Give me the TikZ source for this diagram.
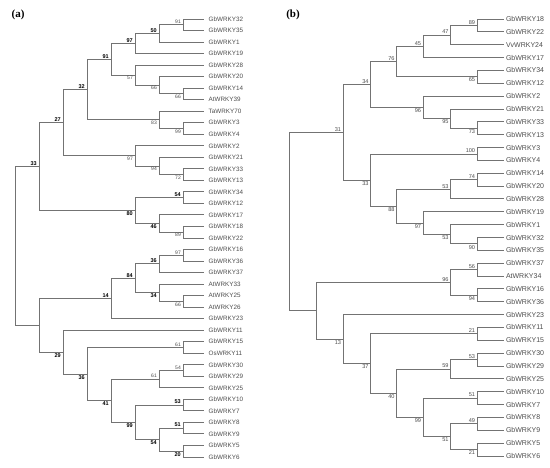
\documentclass[tikz,border=0pt]{standalone}
\usepackage{fontspec}
\setmainfont{Liberation Sans}
\newfontfamily\panelfont{Liberation Serif}
\usetikzlibrary{calc}
\definecolor{linec}{gray}{0.45}
\definecolor{txtc}{gray}{0.3}
\tikzset{
  br/.style={draw=linec, line width=0.9pt},
  leafA/.style={anchor=west, inner xsep=4.5pt, inner ysep=0.5pt, text=txtc, font=\fontsize{6.3}{7}\selectfont},
  leafB/.style={anchor=west, inner xsep=1.8pt, inner ysep=0.5pt, text=txtc, font=\fontsize{7}{8}\selectfont},
  bsa/.style={inner sep=1pt, text=txtc, font=\fontsize{5}{6}\selectfont},
  bsb/.style={inner sep=1pt, font=\bfseries\fontsize{5.5}{6}\selectfont},
  bsr/.style={inner sep=1pt, text=txtc, font=\fontsize{5.6}{6}\selectfont},
  panel/.style={inner sep=0pt, font=\panelfont\bfseries\fontsize{11}{12}\selectfont}
}
\newcommand{\tnode}[4]{%
  \path let \p1=($(#3)!0.5!(#4)$) in (#2pt,\y1) coordinate (#1);
  \draw[br] (#1) |- (#3);
  \draw[br] (#1) |- (#4);}
\newcommand{\bsup}[3]{\node[#2, anchor=south east, xshift=-1pt] (#1t) at (#1) {#3};}
\newcommand{\bsdn}[3]{\node[#2, anchor=north east, xshift=-1pt] (#1t) at (#1) {#3};}
\begin{document}
\begin{tikzpicture}[x=1pt,y=-1pt]
\useasboundingbox (0,0) rectangle (550,468);
\node[panel] (pa) at (18,15) {(a)};
\node[panel] (pb) at (293,15) {(b)};
% ---------- leaves (a)
\foreach \k/\t [count=\i from 0] in {g32/GbWRKY32,g35/GbWRKY35,g1/GbWRKY1,g19/GbWRKY19,g28/GbWRKY28,g20/GbWRKY20,g14/GbWRKY14,at39/AtWRKY39,ta70/TaWRKY70,g3/GbWRKY3,g4/GbWRKY4,g2/GbWRKY2,g21/GbWRKY21,g33/GbWRKY33,g13/GbWRKY13,g34/GbWRKY34,g12/GbWRKY12,g17/GbWRKY17,g18/GbWRKY18,g22/GbWRKY22,g16/GbWRKY16,g36/GbWRKY36,g37/GbWRKY37,at33/AtWRKY33,at25/AtWRKY25,at26/AtWRKY26,g23/GbWRKY23,g11/GbWRKY11,g15/GbWRKY15,os11/OsWRKY11,g30/GbWRKY30,g29/GbWRKY29,g25/GbWRKY25,g10/GbWRKY10,g7/GbWRKY7,g8/GbWRKY8,g9/GbWRKY9,g5/GbWRKY5,g6/GbWRKY6}
  \node[leafA] (a\k) at (204, 19+\i*11.5263) {\t};
% ---------- leaves (b)
\foreach \k/\t [count=\i from 0] in {g18/GbWRKY18,g22/GbWRKY22,vv24/VvWRKY24,g17/GbWRKY17,g34/GbWRKY34,g12/GbWRKY12,g2/GbWRKY2,g21/GbWRKY21,g33/GbWRKY33,g13/GbWRKY13,g3/GbWRKY3,g4/GbWRKY4,g14/GbWRKY14,g20/GbWRKY20,g28/GbWRKY28,g19/GbWRKY19,g1/GbWRKY1,g32/GbWRKY32,g35/GbWRKY35,g37/GbWRKY37,at34/AtWRKY34,g16/GbWRKY16,g36/GbWRKY36,g23/GbWRKY23,g11/GbWRKY11,g15/GbWRKY15,g30/GbWRKY30,g29/GbWRKY29,g25/GbWRKY25,g10/GbWRKY10,g7/GbWRKY7,g8/GbWRKY8,g9/GbWRKY9,g5/GbWRKY5,g6/GbWRKY6}
  \node[leafB] (b\k) at (504, 19+\i*12.853) {\t};
% ---------- tree (a)
\tnode{Aa}{183}{ag32}{ag35}
\tnode{Ab}{159}{Aa}{ag1}
\tnode{Ac}{135}{Ab}{ag19}
\tnode{Ad}{183}{ag14}{aat39}
\tnode{Ae}{159}{ag20}{Ad}
\tnode{Af}{135}{ag28}{Ae}
\tnode{Ag}{111}{Ac}{Af}
\tnode{Ah}{183}{ag3}{ag4}
\tnode{Ai}{159}{ata70}{Ah}
\tnode{Aj}{87}{Ag}{Ai}
\tnode{Ak}{183}{ag33}{ag13}
\tnode{Al}{159}{ag21}{Ak}
\tnode{Am}{135}{ag2}{Al}
\tnode{An}{63}{Aj}{Am}
\tnode{Ao}{183}{ag34}{ag12}
\tnode{Ap}{183}{ag18}{ag22}
\tnode{Aq}{159}{ag17}{Ap}
\tnode{Ar}{135}{Ao}{Aq}
\tnode{As}{39}{An}{Ar}
\tnode{At}{183}{ag16}{ag36}
\tnode{Au}{159}{At}{ag37}
\tnode{Av}{183}{aat25}{aat26}
\tnode{Aw}{159}{aat33}{Av}
\tnode{Ax}{135}{Au}{Aw}
\tnode{Ay}{111}{Ax}{ag23}
\tnode{Az}{183}{ag15}{aos11}
\tnode{AA}{183}{ag30}{ag29}
\tnode{AB}{159}{AA}{ag25}
\tnode{AC}{183}{ag10}{ag7}
\tnode{AD}{183}{ag8}{ag9}
\tnode{AE}{183}{ag5}{ag6}
\tnode{AF}{159}{AD}{AE}
\tnode{AG}{135}{AC}{AF}
\tnode{AH}{111}{AB}{AG}
\tnode{AI}{87}{Az}{AH}
\tnode{AJ}{63}{ag11}{AI}
\tnode{AK}{39}{Ay}{AJ}
\tnode{AL}{15}{As}{AK}
% labels (a)
\bsup{Aa}{bsa}{91}
\bsup{Ab}{bsb}{50}
\bsup{Ac}{bsb}{97}
\bsup{Ag}{bsb}{91}
\bsdn{Af}{bsa}{57}
\bsdn{Ae}{bsa}{66}
\bsdn{Ad}{bsa}{66}
\bsup{Aj}{bsb}{32}
\bsdn{Ai}{bsa}{83}
\bsdn{Ah}{bsa}{99}
\bsup{An}{bsb}{27}
\bsdn{Am}{bsa}{97}
\bsdn{Al}{bsa}{94}
\bsdn{Ak}{bsa}{72}
\bsup{As}{bsb}{33}
\bsdn{Ar}{bsb}{80}
\bsup{Ao}{bsb}{54}
\bsdn{Aq}{bsb}{46}
\bsdn{Ap}{bsa}{89}
\bsup{Ay}{bsb}{14}
\bsup{Ax}{bsb}{84}
\bsup{Au}{bsb}{36}
\bsup{At}{bsa}{97}
\bsdn{Aw}{bsb}{34}
\bsdn{Av}{bsa}{66}
\bsdn{AJ}{bsb}{29}
\bsup{Az}{bsa}{61}
\bsdn{AI}{bsb}{36}
\bsdn{AH}{bsb}{41}
\bsup{AB}{bsa}{61}
\bsup{AA}{bsa}{54}
\bsdn{AG}{bsb}{99}
\bsup{AC}{bsb}{53}
\bsdn{AF}{bsb}{54}
\bsup{AD}{bsb}{51}
\bsdn{AE}{bsb}{20}
% ---------- tree (b)
\tnode{Ba}{477.3}{bg18}{bg22}
\tnode{Bb}{450.7}{Ba}{bvv24}
\tnode{Bc}{423.3}{Bb}{bg17}
\tnode{Bd}{477.3}{bg34}{bg12}
\tnode{Be}{396.7}{Bc}{Bd}
\tnode{Bf}{477.3}{bg33}{bg13}
\tnode{Bg}{450.7}{bg21}{Bf}
\tnode{Bh}{423.3}{bg2}{Bg}
\tnode{Bi}{370.7}{Be}{Bh}
\tnode{Bj}{477.3}{bg3}{bg4}
\tnode{Bk}{477.3}{bg14}{bg20}
\tnode{Bl}{450.7}{Bk}{bg28}
\tnode{Bm}{477.3}{bg32}{bg35}
\tnode{Bn}{450.7}{bg1}{Bm}
\tnode{Bo}{423.3}{bg19}{Bn}
\tnode{Bp}{396.7}{Bl}{Bo}
\tnode{Bq}{370.7}{Bj}{Bp}
\tnode{Br}{343.3}{Bi}{Bq}
\tnode{Bs}{477.3}{bg37}{bat34}
\tnode{Bt}{477.3}{bg16}{bg36}
\tnode{Bu}{450.7}{Bs}{Bt}
\tnode{Bv}{477.3}{bg11}{bg15}
\tnode{Bw}{477.3}{bg30}{bg29}
\tnode{Bx}{450.7}{Bw}{bg25}
\tnode{By}{477.3}{bg10}{bg7}
\tnode{Bz}{477.3}{bg8}{bg9}
\tnode{BA}{477.3}{bg5}{bg6}
\tnode{BB}{450.7}{Bz}{BA}
\tnode{BC}{423.3}{By}{BB}
\tnode{BD}{396.7}{Bx}{BC}
\tnode{BE}{370.7}{Bv}{BD}
\tnode{BF}{343.3}{bg23}{BE}
\tnode{BG}{316}{Bu}{BF}
\tnode{BH}{289.3}{Br}{BG}
% labels (b)
\bsup{Ba}{bsr}{89}
\bsup{Bb}{bsr}{47}
\bsup{Bc}{bsr}{45}
\bsup{Be}{bsr}{76}
\bsdn{Bd}{bsr}{65}
\bsup{Bi}{bsr}{34}
\bsdn{Bh}{bsr}{96}
\bsdn{Bg}{bsr}{95}
\bsdn{Bf}{bsr}{73}
\bsup{Br}{bsr}{31}
\bsdn{Bq}{bsr}{33}
\bsup{Bj}{bsr}{100}
\bsdn{Bp}{bsr}{88}
\bsup{Bl}{bsr}{53}
\bsup{Bk}{bsr}{74}
\bsdn{Bo}{bsr}{97}
\bsdn{Bn}{bsr}{53}
\bsdn{Bm}{bsr}{90}
\bsup{Bu}{bsr}{96}
\bsup{Bs}{bsr}{56}
\bsdn{Bt}{bsr}{94}
\bsdn{BF}{bsr}{13}
\bsup{Bv}{bsr}{21}
\bsdn{BE}{bsr}{37}
\bsup{Bw}{bsr}{53}
\bsup{Bx}{bsr}{59}
\bsdn{BD}{bsr}{40}
\bsup{By}{bsr}{51}
\bsdn{BC}{bsr}{99}
\bsup{Bz}{bsr}{49}
\bsdn{BB}{bsr}{51}
\bsdn{BA}{bsr}{21}
\end{tikzpicture}
\end{document}
